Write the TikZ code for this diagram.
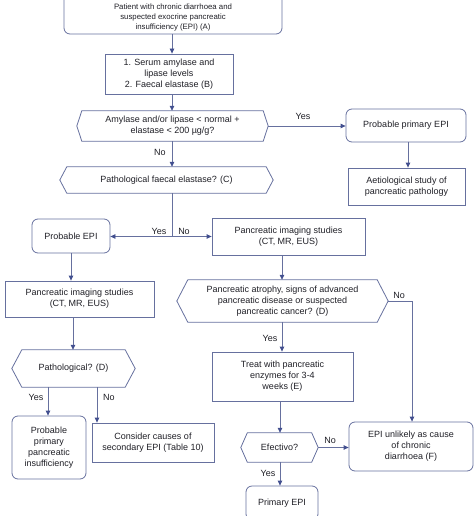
\documentclass[tikz,border=0pt]{standalone}
\usepackage{fontspec}
\setmainfont{Liberation Sans}
\usetikzlibrary{arrows.meta}
\definecolor{lc}{rgb}{0.40,0.44,0.62}
\definecolor{ac}{rgb}{0.26,0.31,0.56}
\definecolor{tc}{rgb}{0.12,0.12,0.15}
\begin{document}
\begin{tikzpicture}[x=1pt,y=-1pt,
 every node/.style={text=tc, font=\fontsize{9}{11}\selectfont, inner sep=0pt},
 sbox/.style={draw=lc, line width=0.8pt, align=center},
 rbox/.style={sbox, rounded corners=6pt},
 hexn/.style={align=center},
 hexline/.style={draw=lc, line width=0.8pt, line join=miter},
 arr/.style={draw=lc, line width=0.8pt, -{Triangle[length=5pt,width=4.5pt,color=ac]}},
 conn/.style={draw=lc, line width=0.8pt},
 lab/.style={font=\fontsize{9}{11}\selectfont}]
\useasboundingbox (0,0) rectangle (474,516);

\node[rbox, minimum width=218pt, minimum height=42pt] (A) at (173,13) {};
\node[font=\fontsize{7.8}{10}\selectfont, align=center] (At) at (173,17) {Patient with chronic diarrhoea and\\suspected exocrine pancreatic\\insufficiency (EPI) (A)};
\node[sbox, minimum width=128pt, minimum height=40pt] (B) at (169,74) {1. Serum amylase and\\lipase levels\\2. Faecal elastase (B)};
\node[hexn, minimum width=191pt, minimum height=30pt] (C1) at (172.5,126) {Amylase and/or lipase < normal +\\elastase < 200 µg/g?};
\node[rbox, minimum width=120pt, minimum height=33pt] (PPE) at (406,125.5) {Probable primary EPI};
\node[sbox, minimum width=117pt, minimum height=37pt] (AET) at (406.5,186.5) {Aetiological study of\\pancreatic pathology};
\node[hexn, minimum width=213pt, minimum height=26pt] (C2) at (166.5,180) {Pathological faecal elastase? (C)};
\node[rbox, minimum width=78pt, minimum height=34pt] (PEPI) at (71,236) {Probable EPI};
\node[sbox, minimum width=153pt, minimum height=37pt] (PI1) at (288.5,236.5) {Pancreatic imaging studies\\(CT, MR, EUS)};
\node[sbox, minimum width=149pt, minimum height=36pt] (PI2) at (79.5,299) {Pancreatic imaging studies\\(CT, MR, EUS)};
\node[hexn, minimum width=123pt, minimum height=37pt] (PD) at (73.5,368.5) {Pathological? (D)};
\node[hexn, minimum width=211pt, minimum height=42pt] (D1) at (282.5,301) {Pancreatic atrophy, signs of advanced\\pancreatic disease or suspected\\pancreatic cancer? (D)};
\node[sbox, minimum width=141pt, minimum height=49pt] (TR) at (282.5,376.5) {Treat with pancreatic\\enzymes for 3-4\\weeks (E)};
\node[hexn, minimum width=77pt, minimum height=29pt] (EF) at (279.5,447.5) {Efectivo?};
\node[rbox, minimum width=124pt, minimum height=49pt] (EU) at (411,446.5) {EPI unlikely as cause\\of chronic\\diarrhoea (F)};
\node[rbox, minimum width=72pt, minimum height=34pt] (PE) at (282,503) {Primary EPI};
\node[rbox, minimum width=74pt, minimum height=63pt] (PPPI) at (49,447.5) {Probable\\primary\\pancreatic\\insufficiency};
\node[sbox, minimum width=122pt, minimum height=39pt] (CC) at (153,442.5) {Consider causes of\\secondary EPI (Table 10)};

\foreach \n/\d in {C1/5,C2/7,PD/10,D1/11,EF/6.5}
  \draw[hexline] ([xshift=\d pt]\n.north west) -- ([xshift=-\d pt]\n.north east) -- (\n.east)
     -- ([xshift=-\d pt]\n.south east) -- ([xshift=\d pt]\n.south west) -- (\n.west) -- cycle;

\draw[arr] (A.south -| 172,0) -- (B.north -| 172,0);
\draw[arr] (B.south -| 172,0) -- (C1.north -| 172,0);
\draw[arr] (C1.east) -- (C1.east -| PPE.west);
\node[lab] (ly1) at (303,116) {Yes};
\draw[arr] (PPE.south -| 408,0) -- (AET.north -| 408,0);
\draw[arr] (C1.south -| 172,0) -- (C2.north -| 172,0);
\node[lab] (ln1) at (160,152) {No};
\coordinate (J) at (172,236.5);
\draw[conn] (C2.south -| J) -- (J);
\draw[arr] (J) -- (J -| PEPI.east);
\draw[arr] (J) -- (J -| PI1.west);
\node[lab] (ly2) at (159,231) {Yes};
\node[lab] (ln2) at (184,231) {No};
\draw[arr] (PEPI.south -| 71,0) -- (PI2.north -| 71,0);
\draw[arr] (PI2.south -| 73,0) -- (PD.north -| 73,0);
\draw[arr] (PI1.south -| 282,0) -- (D1.north -| 282,0);
\draw[arr] (D1.east) -| (EU.north -| 412,0);
\node[lab] (ln3) at (399,295) {No};
\draw[arr] (D1.south -| 282,0) -- (TR.north -| 282,0);
\node[lab] (ly3) at (270,338) {Yes};
\draw[arr] (TR.south -| 280,0) -- (EF.north -| 280,0);
\draw[arr] (EF.east) -- (EF.east -| EU.west);
\node[lab] (ln4) at (330,440) {No};
\draw[arr] (EF.south -| 280,0) -- (PE.north -| 280,0);
\node[lab] (ly4) at (268,473) {Yes};
\draw[arr] (PD.south -| 48,0) -- (PPPI.north -| 48,0);
\node[lab] (ly5) at (36,397) {Yes};
\draw[arr] (PD.south -| 97,0) -- (CC.north -| 97,0);
\node[lab] (ln5) at (109,397) {No};
\end{tikzpicture}
\end{document}
